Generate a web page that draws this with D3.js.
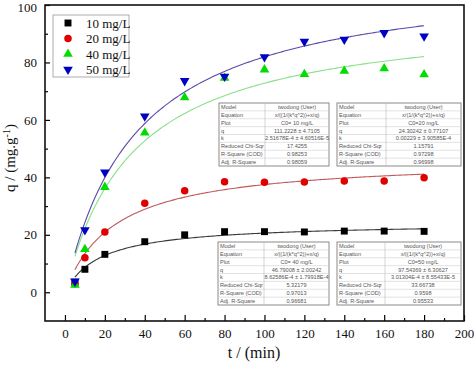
<!DOCTYPE html>
<html>
<head>
<meta charset="utf-8">
<script src="https://cdn.jsdelivr.net/npm/d3@7"></script>
<style>
body{margin:0;background:#fff;}
svg{display:block;}
</style>
</head>
<body>
<script>
// data
var times = [5, 10, 20, 40, 60, 80, 100, 120, 140, 160, 180];
var seriesNames = ["10 mg/L", "20 mg/L", "40 mg/L", "50 mg/L"];
var q10 = [3.5, 8.0, 13.2, 17.6, 20.0, 21.1, 21.1, 21.0, 21.3, 21.3, 21.2];
var q20 = [3.0, 12.0, 21.0, 31.0, 35.3, 38.5, 38.3, 38.4, 38.7, 38.7, 39.9];
var q40 = [2.5, 15.0, 36.6, 55.5, 67.8, 74.6, 77.5, 75.9, 77.0, 77.9, 75.8];
var q50 = [3.8, 21.7, 41.8, 61.3, 73.6, 75.1, 81.9, 87.3, 88.0, 90.3, 89.1];
// fitted pseudo-second-order params (from the tables) per series
var fitQ = [24.30242, 46.79008, 97.54369, 111.2228];
var fitK = [0.00229, 8.62586e-4, 3.01304e-4, 2.51678e-4];
var xTicks = [0, 20, 40, 60, 80, 100, 120, 140, 160, 180, 200];
var yTicks = [0, 20, 40, 60, 80, 100];
// fit tables
var rowLabels = ["Model", "Equation", "Plot", "q", "k", "Reduced Chi-Sqr", "R-Square (COD)", "Adj. R-Square"];
var tabA = ["twodong (User)", "x/((1/(k*q^2))+x/q)", "C0= 10 mg/L", "111.2228 \u00b1 4.7105", "2.51678E-4 \u00b1 4.60516E-5", "17.4255", "0.98253", "0.98059"];
var tabB = ["twodong (User)", "x/(1/(k*q^2))+x/q)", "C0=20 mg/L", "24.30242 \u00b1 0.77107", "0.00229 \u00b1 3.90585E-4", "1.15791", "0.97298", "0.96998"];
var tabC = ["twodong (User)", "x/((1/(k*q^2))+x/q)", "C0= 40 mg/L", "46.79008 \u00b1 2.00242", "8.62586E-4 \u00b1 1.79918E-4", "5.32179", "0.97013", "0.96681"];
var tabD = ["twodong (User)", "x/((1/(k*q^2))+x/q)", "C0=50 mg/L", "97.54369 \u00b1 6.30627", "3.01304E-4 \u00b1 8.55433E-5", "33.66738", "0.9598", "0.95533"];

var W = 474, H = 365;
var svg = d3.select("body").append("svg").attr("width", W).attr("height", H);
var x = d3.scaleLinear().domain([-10, 200]).range([45, 464]);
var y = d3.scaleLinear().domain([-10, 100]).range([321, 5]);
var serif = "'Liberation Serif','Times New Roman',serif";

// axes
svg.append("g").attr("transform", "translate(0,321)")
  .call(d3.axisBottom(x).tickValues(xTicks).tickSizeInner(-6).tickSizeOuter(0).tickPadding(8));
svg.append("g").attr("transform", "translate(0,321)")
  .call(d3.axisBottom(x).tickValues(d3.range(10, 200, 20)).tickSizeInner(-3).tickSizeOuter(0).tickFormat(""));
var yAx = svg.append("g").attr("transform", "translate(45,0)")
  .call(d3.axisLeft(y).tickValues(yTicks).tickSizeInner(-5).tickSizeOuter(0).tickPadding(8));
svg.append("g").attr("transform", "translate(45,0)")
  .call(d3.axisLeft(y).tickValues(d3.range(10, 100, 20)).tickSizeInner(-3).tickSizeOuter(0).tickFormat(""));
svg.selectAll(".domain").remove();
svg.selectAll(".tick line").attr("stroke", "#000").attr("stroke-width", 1.2);
svg.selectAll(".tick text").attr("font-family", serif).attr("font-size", 13).attr("fill", "#111");
// top label sits on the window edge, nudge it down a bit
yAx.selectAll(".tick text").filter(function(d) { return d === 100; }).attr("dy", "0.5em");

// frame
svg.append("rect").attr("x", x(-10)).attr("y", y(100))
  .attr("width", x(200) - x(-10)).attr("height", y(-10) - y(100))
  .attr("fill", "none").attr("stroke", "#111").attr("stroke-width", 1.6);

// axis titles
svg.append("text").attr("x", 254).attr("y", 358).attr("text-anchor", "middle")
  .attr("font-family", serif).attr("font-size", 16).attr("fill", "#111").text("t / (min)");
var yl = svg.append("text").attr("transform", "translate(15,158) rotate(-90)").attr("text-anchor", "middle")
  .attr("font-family", serif).attr("font-size", 15).attr("fill", "#111");
yl.append("tspan").text("q / (mg.g");
yl.append("tspan").attr("dy", -5).attr("font-size", 10).text("-1");
yl.append("tspan").attr("dy", 5).text(")");

// tables
var tables = [
  {vals: tabA, x0: 219, x1: 329, y0: 103, y1: 166, split: 265},
  {vals: tabB, x0: 337, x1: 461, y0: 103, y1: 166, split: 386},
  {vals: tabC, x0: 218, x1: 329, y0: 242, y1: 305, split: 264},
  {vals: tabD, x0: 337, x1: 461, y0: 242, y1: 305, split: 385}
];
tables.forEach(function(t) {
  var g = svg.append("g");
  var rh = (t.y1 - t.y0) / rowLabels.length;
  g.append("rect").attr("x", t.x0).attr("y", t.y0).attr("width", t.x1 - t.x0).attr("height", t.y1 - t.y0)
    .attr("fill", "#fff").attr("stroke", "#8a8a8a").attr("stroke-width", 1);
  g.selectAll("line.r").data(d3.range(1, rowLabels.length)).enter().append("line")
    .attr("x1", t.x0).attr("x2", t.x1)
    .attr("y1", function(i) { return t.y0 + i * rh; }).attr("y2", function(i) { return t.y0 + i * rh; })
    .attr("stroke", "#d0d0d0").attr("stroke-width", 0.6);
  g.append("line").attr("x1", t.split).attr("x2", t.split).attr("y1", t.y0).attr("y2", t.y1)
    .attr("stroke", "#bbb").attr("stroke-width", 0.6);
  g.selectAll("text.l").data(rowLabels).enter().append("text")
    .attr("x", t.x0 + 2).attr("y", function(d, i) { return t.y0 + (i + 0.5) * rh + 2; })
    .attr("font-family", "'Liberation Sans',Arial,sans-serif").attr("font-size", 5.6).attr("fill", "#555")
    .text(function(d) { return d; });
  g.selectAll("text.v").data(t.vals).enter().append("text")
    .attr("x", (t.split + t.x1) / 2).attr("y", function(d, i) { return t.y0 + (i + 0.5) * rh + 2; })
    .attr("text-anchor", "middle")
    .attr("font-family", "'Liberation Sans',Arial,sans-serif").attr("font-size", 5.6).attr("fill", "#555")
    .text(function(d) { return d; });
});

// fitted curves
var curveCols = ["#3a3a3a", "#c05a5a", "#88e088", "#5a4aa8"];
var line = d3.line().x(function(d) { return x(d[0]); }).y(function(d) { return y(d[1]); });
fitQ.forEach(function(q, i) {
  var k = fitK[i];
  var pts = d3.range(5, 180.5, 1).map(function(t) { return [t, t / (1 / (k * q * q) + t / q)]; });
  svg.append("path").attr("d", line(pts)).attr("fill", "none")
    .attr("stroke", curveCols[i]).attr("stroke-width", 1.1);
});

// markers
var allQ = [q10, q20, q40, q50];
var markCols = ["#000000", "#e00000", "#00dd00", "#0000c0"];
var shapes = [
  {type: d3.symbolSquare, size: 48, rot: 0},
  {type: d3.symbolCircle, size: 44, rot: 0},
  {type: d3.symbolTriangle, size: 40, rot: 0},
  {type: d3.symbolTriangle, size: 40, rot: 180}
];
function sym(i) { return d3.symbol().type(shapes[i].type).size(shapes[i].size)(); }
allQ.forEach(function(vals, i) {
  svg.append("g").selectAll("path").data(vals).enter().append("path")
    .attr("d", sym(i))
    .attr("transform", function(d, j) {
      return "translate(" + x(times[j]) + "," + y(d) + ") rotate(" + shapes[i].rot + ")";
    })
    .attr("fill", markCols[i]);
});

// legend
var lg = svg.append("g");
lg.append("rect").attr("x", 53).attr("y", 15).attr("width", 76).attr("height", 62)
  .attr("fill", "#fff").attr("stroke", "#999").attr("stroke-width", 0.8);
seriesNames.forEach(function(n, i) {
  var ly = 23 + i * 15.5;
  lg.append("path").attr("d", sym(i))
    .attr("transform", "translate(68," + ly + ") rotate(" + shapes[i].rot + ")")
    .attr("fill", markCols[i]);
  lg.append("text").attr("x", 86).attr("y", ly + 4.5)
    .attr("font-family", serif).attr("font-size", 13).attr("fill", "#111").text(n);
});
</script>
</body>
</html>
